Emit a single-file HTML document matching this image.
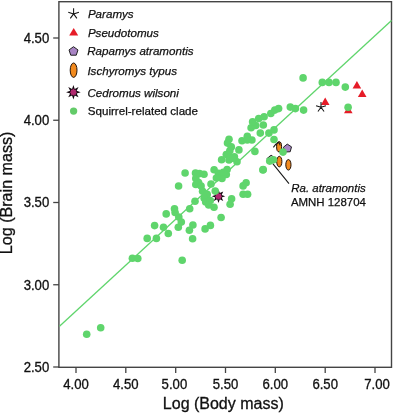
<!DOCTYPE html><html><head><meta charset="utf-8"><title>Brain mass vs body mass</title>
<style>html,body{margin:0;padding:0;background:#fff}svg{display:block}text{font-family:"Liberation Sans",Arial,Helvetica,sans-serif;fill:#111}.b{stroke:#111;stroke-width:.3px}.c{stroke:#111;stroke-width:.25px}</style></head><body>
<svg width="394" height="413" viewBox="0 0 394 413">
<rect width="394" height="413" fill="#fff"/>
<rect x="58.9" y="1.7" width="332.6" height="365.6" fill="none" stroke="#444" stroke-width="1.4"/>
<line x1="76" y1="367.3" x2="76" y2="373" stroke="#444" stroke-width="1.3"/>
<text transform="translate(76,389) scale(1,1.05)" font-size="13.15" text-anchor="middle" class="b">4.00</text>
<line x1="125.8" y1="367.3" x2="125.8" y2="373" stroke="#444" stroke-width="1.3"/>
<text transform="translate(125.8,389) scale(1,1.05)" font-size="13.15" text-anchor="middle" class="b">4.50</text>
<line x1="175.7" y1="367.3" x2="175.7" y2="373" stroke="#444" stroke-width="1.3"/>
<text transform="translate(174.39999999999998,389) scale(1,1.05)" font-size="13.15" text-anchor="middle" class="b">5.00</text>
<line x1="225.5" y1="367.3" x2="225.5" y2="373" stroke="#444" stroke-width="1.3"/>
<text transform="translate(225.5,389) scale(1,1.05)" font-size="13.15" text-anchor="middle" class="b">5.50</text>
<line x1="275.3" y1="367.3" x2="275.3" y2="373" stroke="#444" stroke-width="1.3"/>
<text transform="translate(275.3,389) scale(1,1.05)" font-size="13.15" text-anchor="middle" class="b">6.00</text>
<line x1="325.2" y1="367.3" x2="325.2" y2="373" stroke="#444" stroke-width="1.3"/>
<text transform="translate(325.2,389) scale(1,1.05)" font-size="13.15" text-anchor="middle" class="b">6.50</text>
<line x1="375" y1="367.3" x2="375" y2="373" stroke="#444" stroke-width="1.3"/>
<text transform="translate(377.0,389) scale(1,1.05)" font-size="13.15" text-anchor="middle" class="b">7.00</text>
<line x1="53.2" y1="367" x2="59" y2="367" stroke="#444" stroke-width="1.3"/>
<text transform="translate(49.2,371.80) scale(1,1.05)" font-size="13.15" text-anchor="end" class="b">2.50</text>
<line x1="53.2" y1="284.75" x2="59" y2="284.75" stroke="#444" stroke-width="1.3"/>
<text transform="translate(49.2,289.55) scale(1,1.05)" font-size="13.15" text-anchor="end" class="b">3.00</text>
<line x1="53.2" y1="202.5" x2="59" y2="202.5" stroke="#444" stroke-width="1.3"/>
<text transform="translate(49.2,207.30) scale(1,1.05)" font-size="13.15" text-anchor="end" class="b">3.50</text>
<line x1="53.2" y1="120.25" x2="59" y2="120.25" stroke="#444" stroke-width="1.3"/>
<text transform="translate(49.2,125.05) scale(1,1.05)" font-size="13.15" text-anchor="end" class="b">4.00</text>
<line x1="53.2" y1="38" x2="59" y2="38" stroke="#444" stroke-width="1.3"/>
<text transform="translate(49.2,42.80) scale(1,1.05)" font-size="13.15" text-anchor="end" class="b">4.50</text>
<text x="223.3" y="408.6" class="b" font-size="16" text-anchor="middle">Log (Body mass)</text>
<text transform="translate(12.3,192.9) rotate(-90)" class="b" font-size="16.1" text-anchor="middle">Log (Brain mass)</text>
<line x1="59.5" y1="326.3" x2="391.5" y2="20.6" stroke="#5fd56c" stroke-width="1.3"/>
<path d="M272.8,163.6L289,183.6M266.8,158.9L271.1,155.4L274.5,157.6M273.4,147.4L275.7,144.2L277.2,145.2" stroke="#1a1a1a" stroke-width="1.1" fill="none"/>
<polygon points="356.9,81.1 361.2,88.5 352.6,88.5" fill="#e61c28"/>
<polygon points="362.2,89.5 366.5,96.9 357.9,96.9" fill="#e61c28"/>
<polygon points="325.2,97.6 329.5,105.0 320.9,105.0" fill="#e61c28"/>
<polygon points="348.3,105.9 352.6,113.3 344.0,113.3" fill="#e61c28"/>
<ellipse cx="279.1" cy="146.8" rx="2.5" ry="5.1" fill="#f28a1e" stroke="#221208" stroke-width="1"/>
<ellipse cx="279.3" cy="161.6" rx="2.6" ry="5.3" fill="#f28a1e" stroke="#221208" stroke-width="1"/>
<ellipse cx="288.4" cy="164.8" rx="2.6" ry="5.3" fill="#f28a1e" stroke="#221208" stroke-width="1"/>
<polygon points="287.27,144.11 291.51,146.86 290.21,151.74 285.16,152.01 283.35,147.29" fill="#a884c4" stroke="#222" stroke-width="1" stroke-linejoin="round"/>
<path d="M276.3,143.7L278.9,142.4L280.2,145.4" stroke="#1a1a1a" stroke-width="1.1" fill="none"/>
<circle cx="86.7" cy="334.2" r="3.8" fill="#5fd56c"/>
<circle cx="100.7" cy="327.7" r="3.8" fill="#5fd56c"/>
<circle cx="132.4" cy="258.3" r="3.8" fill="#5fd56c"/>
<circle cx="137.8" cy="258.5" r="3.8" fill="#5fd56c"/>
<circle cx="147.2" cy="238.4" r="3.8" fill="#5fd56c"/>
<circle cx="156.4" cy="238.4" r="3.8" fill="#5fd56c"/>
<circle cx="154.6" cy="225.6" r="3.8" fill="#5fd56c"/>
<circle cx="163.5" cy="227.2" r="3.8" fill="#5fd56c"/>
<circle cx="168.3" cy="233.5" r="3.8" fill="#5fd56c"/>
<circle cx="166.2" cy="213.9" r="3.8" fill="#5fd56c"/>
<circle cx="178.3" cy="227.2" r="3.8" fill="#5fd56c"/>
<circle cx="181.3" cy="222.1" r="3.8" fill="#5fd56c"/>
<circle cx="178.8" cy="217.1" r="3.8" fill="#5fd56c"/>
<circle cx="175.1" cy="212.5" r="3.8" fill="#5fd56c"/>
<circle cx="182.2" cy="260.3" r="3.8" fill="#5fd56c"/>
<circle cx="189.4" cy="230.3" r="3.8" fill="#5fd56c"/>
<circle cx="192.9" cy="225" r="3.8" fill="#5fd56c"/>
<circle cx="192.6" cy="238.8" r="3.8" fill="#5fd56c"/>
<circle cx="174.5" cy="208.8" r="3.8" fill="#5fd56c"/>
<circle cx="189.7" cy="208.8" r="3.8" fill="#5fd56c"/>
<circle cx="195" cy="201.2" r="3.8" fill="#5fd56c"/>
<circle cx="178.6" cy="186" r="3.8" fill="#5fd56c"/>
<circle cx="185.1" cy="173" r="3.8" fill="#5fd56c"/>
<circle cx="195.5" cy="173" r="3.8" fill="#5fd56c"/>
<circle cx="204" cy="174.2" r="3.8" fill="#5fd56c"/>
<circle cx="195.8" cy="178.4" r="3.8" fill="#5fd56c"/>
<circle cx="198.6" cy="182.5" r="3.8" fill="#5fd56c"/>
<circle cx="195.8" cy="184.5" r="3.8" fill="#5fd56c"/>
<circle cx="201.1" cy="186" r="3.8" fill="#5fd56c"/>
<circle cx="202.6" cy="191.3" r="3.8" fill="#5fd56c"/>
<circle cx="207.2" cy="194.4" r="3.8" fill="#5fd56c"/>
<circle cx="204.2" cy="198.2" r="3.8" fill="#5fd56c"/>
<circle cx="205.7" cy="202" r="3.8" fill="#5fd56c"/>
<circle cx="210.3" cy="200.5" r="3.8" fill="#5fd56c"/>
<circle cx="208.7" cy="205" r="3.8" fill="#5fd56c"/>
<circle cx="214" cy="207.3" r="3.8" fill="#5fd56c"/>
<circle cx="211" cy="184" r="3.8" fill="#5fd56c"/>
<circle cx="210.4" cy="225.4" r="3.8" fill="#5fd56c"/>
<circle cx="205.1" cy="228.9" r="3.8" fill="#5fd56c"/>
<circle cx="221.1" cy="217.5" r="3.8" fill="#5fd56c"/>
<circle cx="214.1" cy="169.8" r="3.8" fill="#5fd56c"/>
<circle cx="218.5" cy="173.2" r="3.8" fill="#5fd56c"/>
<circle cx="227.1" cy="169.6" r="3.8" fill="#5fd56c"/>
<circle cx="226.3" cy="174.5" r="3.8" fill="#5fd56c"/>
<circle cx="222" cy="178.5" r="3.8" fill="#5fd56c"/>
<circle cx="216.4" cy="178" r="3.8" fill="#5fd56c"/>
<circle cx="223.3" cy="172.2" r="3.8" fill="#5fd56c"/>
<circle cx="231.6" cy="198.8" r="3.8" fill="#5fd56c"/>
<circle cx="230.1" cy="204.2" r="3.8" fill="#5fd56c"/>
<circle cx="246.1" cy="182.8" r="3.8" fill="#5fd56c"/>
<circle cx="243.1" cy="185.9" r="3.8" fill="#5fd56c"/>
<circle cx="243.1" cy="194.3" r="3.8" fill="#5fd56c"/>
<circle cx="247.6" cy="194.3" r="3.8" fill="#5fd56c"/>
<circle cx="262.9" cy="169.9" r="3.8" fill="#5fd56c"/>
<circle cx="221.6" cy="159.8" r="3.8" fill="#5fd56c"/>
<circle cx="229" cy="160" r="3.8" fill="#5fd56c"/>
<circle cx="237" cy="161.8" r="3.8" fill="#5fd56c"/>
<circle cx="226.3" cy="154.6" r="3.8" fill="#5fd56c"/>
<circle cx="229" cy="139.3" r="3.8" fill="#5fd56c"/>
<circle cx="227.5" cy="143.1" r="3.8" fill="#5fd56c"/>
<circle cx="231.3" cy="146.9" r="3.8" fill="#5fd56c"/>
<circle cx="229.8" cy="156.8" r="3.8" fill="#5fd56c"/>
<circle cx="234.4" cy="156.8" r="3.8" fill="#5fd56c"/>
<circle cx="238.9" cy="149.9" r="3.8" fill="#5fd56c"/>
<circle cx="242" cy="140.8" r="3.8" fill="#5fd56c"/>
<circle cx="247.3" cy="136.2" r="3.8" fill="#5fd56c"/>
<circle cx="251.9" cy="140" r="3.8" fill="#5fd56c"/>
<circle cx="254.9" cy="151.4" r="3.8" fill="#5fd56c"/>
<circle cx="260.3" cy="133.1" r="3.8" fill="#5fd56c"/>
<circle cx="251.1" cy="127.8" r="3.8" fill="#5fd56c"/>
<circle cx="255.7" cy="125.5" r="3.8" fill="#5fd56c"/>
<circle cx="252.6" cy="121.8" r="3.8" fill="#5fd56c"/>
<circle cx="258.7" cy="118.6" r="3.8" fill="#5fd56c"/>
<circle cx="263.3" cy="125" r="3.8" fill="#5fd56c"/>
<circle cx="264.1" cy="116.7" r="3.8" fill="#5fd56c"/>
<circle cx="268.9" cy="133.1" r="3.8" fill="#5fd56c"/>
<circle cx="270.8" cy="113.5" r="3.8" fill="#5fd56c"/>
<circle cx="274.8" cy="110.1" r="3.8" fill="#5fd56c"/>
<circle cx="278.6" cy="108.6" r="3.8" fill="#5fd56c"/>
<circle cx="290.3" cy="107.1" r="3.8" fill="#5fd56c"/>
<circle cx="295.4" cy="108.6" r="3.8" fill="#5fd56c"/>
<circle cx="303.6" cy="110.1" r="3.8" fill="#5fd56c"/>
<circle cx="274" cy="129.9" r="3.8" fill="#5fd56c"/>
<circle cx="274" cy="139.5" r="3.8" fill="#5fd56c"/>
<circle cx="283.0" cy="152.1" r="3.8" fill="#5fd56c"/>
<circle cx="269.7" cy="161.1" r="3.8" fill="#5fd56c"/>
<circle cx="273.4" cy="159.8" r="3.8" fill="#5fd56c"/>
<circle cx="263.2" cy="169.6" r="3.8" fill="#5fd56c"/>
<circle cx="303.1" cy="77.9" r="3.8" fill="#5fd56c"/>
<circle cx="322.3" cy="82.4" r="3.8" fill="#5fd56c"/>
<circle cx="329" cy="82.4" r="3.8" fill="#5fd56c"/>
<circle cx="336" cy="82.4" r="3.8" fill="#5fd56c"/>
<circle cx="345.3" cy="87.1" r="3.8" fill="#5fd56c"/>
<circle cx="348.1" cy="107.2" r="3.8" fill="#5fd56c"/>
<circle cx="247.3" cy="140" r="3.8" fill="#5fd56c"/>
<circle cx="229.8" cy="150.7" r="3.8" fill="#5fd56c"/>
<circle cx="232.8" cy="158.3" r="3.8" fill="#5fd56c"/>
<circle cx="199.5" cy="173.6" r="3.8" fill="#5fd56c"/>
<polygon points="218.50,189.50 219.80,193.06 223.24,191.46 221.64,194.90 225.20,196.20 221.64,197.50 223.24,200.94 219.80,199.34 218.50,202.90 217.20,199.34 213.76,200.94 215.36,197.50 211.80,196.20 215.36,194.90 213.76,191.46 217.20,193.06" fill="#140810"/><polygon points="218.50,192.60 219.53,193.71 221.05,193.65 220.99,195.17 222.10,196.20 220.99,197.23 221.05,198.75 219.53,198.69 218.50,199.80 217.47,198.69 215.95,198.75 216.01,197.23 214.90,196.20 216.01,195.17 215.95,193.65 217.47,193.71" fill="#b0286e"/>
<circle cx="215.2" cy="191.1" r="3.8" fill="#5fd56c"/>
<path d="M321.00,107.30L321.00,102.10M321.00,107.30L325.95,105.69M321.00,107.30L324.06,111.51M321.00,107.30L317.94,111.51M321.00,107.30L316.05,105.69" stroke="#151515" stroke-width="1.05" fill="none"/>
<path d="M73.60,13.90L73.60,8.30M73.60,13.90L78.93,12.17M73.60,13.90L76.89,18.43M73.60,13.90L70.31,18.43M73.60,13.90L68.27,12.17" stroke="#151515" stroke-width="1.05" fill="none"/>
<polygon points="73.7,28.1 78.2,35.4 69.2,35.4" fill="#e61c28"/>
<polygon points="73.50,46.70 77.97,49.95 76.26,55.20 70.74,55.20 69.03,49.95" fill="#a884c4" stroke="#222" stroke-width="1" stroke-linejoin="round"/>
<ellipse cx="73.6" cy="70.2" rx="3.4" ry="7.2" fill="#f28a1e" stroke="#221208" stroke-width="1"/>
<polygon points="73.40,84.90 74.74,88.97 78.56,87.04 76.63,90.86 80.70,92.20 76.63,93.54 78.56,97.36 74.74,95.43 73.40,99.50 72.06,95.43 68.24,97.36 70.17,93.54 66.10,92.20 70.17,90.86 68.24,87.04 72.06,88.97" fill="#140810"/><polygon points="73.40,88.60 74.43,89.71 75.95,89.65 75.89,91.17 77.00,92.20 75.89,93.23 75.95,94.75 74.43,94.69 73.40,95.80 72.37,94.69 70.85,94.75 70.91,93.23 69.80,92.20 70.91,91.17 70.85,89.65 72.37,89.71" fill="#b0286e"/>
<circle cx="73.6" cy="111.1" r="3.65" fill="#63cb69"/>
<text x="87.9" y="17.8" font-size="11.6" class="c" font-style="italic">Paramys</text>
<text x="87.9" y="37.4" font-size="11.6" class="c" font-style="italic">Pseudotomus</text>
<text x="87.2" y="55.3" font-size="11.6" class="c" font-style="italic">Rapamys atramontis</text>
<text x="87.4" y="74.9" font-size="11.6" class="c" font-style="italic">Ischyromys typus</text>
<text x="87.4" y="96.6" font-size="11.6" class="c" font-style="italic">Cedromus wilsoni</text>
<text x="87.8" y="115.2" font-size="11.6" class="c">Squirrel-related clade</text>
<text x="291.3" y="192.4" font-size="11.45" class="c"><tspan font-style="italic">Ra. atramontis</tspan></text>
<text x="290.9" y="206.4" font-size="11.45" class="c">AMNH 128704</text>
</svg></body></html>
